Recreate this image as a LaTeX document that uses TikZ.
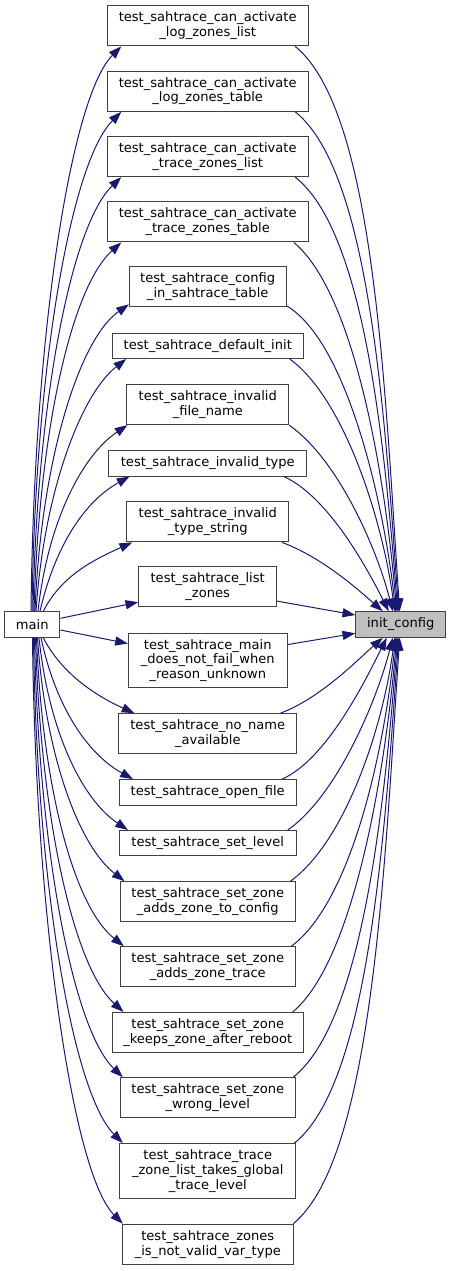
\documentclass[tikz,border=0pt]{standalone}
\usepackage{fontspec}
\setmainfont{DejaVu Sans}
\usetikzlibrary{arrows.meta,calc}
\definecolor{edgec}{HTML}{191970}
\definecolor{boxc}{HTML}{404040}
\definecolor{hl}{HTML}{BFBFBF}
\begin{document}
\begin{tikzpicture}[x=0.75pt,y=-0.75pt,
  box/.style={draw=boxc,fill=white,line width=0.75pt,inner sep=0pt,align=center,
    font=\fontsize{9.8}{11}\selectfont},
  one/.style={minimum height=19.1pt},
  two/.style={minimum height=30.2pt},
  three/.style={minimum height=41.2pt},
  edge/.style={draw=edgec,line width=0.75pt,-{Triangle[length=9.5pt,width=6.8pt]}}]
\useasboundingbox (0,0) rectangle (451,1271);
% nodes
\node[box,two,minimum width=150.5pt] (t1) at (207.7,25.8) {test\_sahtrace\_can\_activate\\\_log\_zones\_list};
\node[box,two,minimum width=150.5pt] (t2) at (207.7,91.2) {test\_sahtrace\_can\_activate\\\_log\_zones\_table};
\node[box,two,minimum width=150.5pt] (t3) at (207.7,156.5) {test\_sahtrace\_can\_activate\\\_trace\_zones\_list};
\node[box,two,minimum width=150.5pt] (t4) at (207.7,221.8) {test\_sahtrace\_can\_activate\\\_trace\_zones\_table};
\node[box,two,minimum width=117.5pt] (t5) at (207.7,286.7) {test\_sahtrace\_config\\\_in\_sahtrace\_table};
\node[box,one,minimum width=143.25pt] (t6) at (207.8,345.8) {test\_sahtrace\_default\_init};
\node[box,two,minimum width=121.3pt] (t7) at (207.8,404.5) {test\_sahtrace\_invalid\\\_file\_name};
\node[box,one,minimum width=148.3pt] (t8) at (207.8,463.3) {test\_sahtrace\_invalid\_type};
\node[box,two,minimum width=121.3pt] (t9) at (207.8,521.8) {test\_sahtrace\_invalid\\\_type\_string};
\node[box,two,minimum width=103.5pt] (lz) at (207.7,586.8) {test\_sahtrace\_list\\\_zones};
\node[box,minimum height=19.2pt,minimum width=41.5pt] (main) at (32.3,624.5) {main};
\node[box,fill=hl,minimum height=19.2pt,minimum width=67.5pt] (init) at (400.7,624.5) {init\_config};
\node[box,three,minimum width=119.25pt] (md) at (207.8,660.5) {test\_sahtrace\_main\\\_does\_not\_fail\_when\\\_reason\_unknown};
\node[box,two,minimum width=133.3pt] (b1) at (207.8,733.8) {test\_sahtrace\_no\_name\\\_available};
\node[box,one,minimum width=132.5pt] (b2) at (207.7,792.3) {test\_sahtrace\_open\_file};
\node[box,one,minimum width=132.5pt] (b3) at (207.7,843.2) {test\_sahtrace\_set\_level};
\node[box,two,minimum width=131.25pt] (b4) at (207.8,901.8) {test\_sahtrace\_set\_zone\\\_adds\_zone\_to\_config};
\node[box,two,minimum width=131.25pt] (b5) at (207.8,966.8) {test\_sahtrace\_set\_zone\\\_adds\_zone\_trace};
\node[box,two,minimum width=143.25pt] (b6) at (207.8,1032.5) {test\_sahtrace\_set\_zone\\\_keeps\_zone\_after\_reboot};
\node[box,two,minimum width=131.25pt] (b7) at (207.8,1097.8) {test\_sahtrace\_set\_zone\\\_wrong\_level};
\node[box,three,minimum width=132.2pt] (b8) at (207.8,1171) {test\_sahtrace\_trace\\\_zone\_list\_takes\_global\\\_trace\_level};
\node[box,two,minimum width=128.25pt] (b9) at (207.8,1244.3) {test\_sahtrace\_zones\\\_is\_not\_valid\_var\_type};
% main -> upper tests
\draw[edge] ($(main.north)+(-1.3,0)$) .. controls +(3,-280) and +(-50,50) .. ($(t1.south west)+(14.4,0)$);
\draw[edge] ($(main.north)+(-0.3,0)$) .. controls +(3,-245) and +(-50,50) .. ($(t2.south west)+(14.4,0)$);
\draw[edge] ($(main.north)+(0.7,0)$) .. controls +(4,-210) and +(-50,48) .. ($(t3.south west)+(14.4,0)$);
\draw[edge] ($(main.north)+(1.7,0)$) .. controls +(5,-180) and +(-50,45) .. ($(t4.south west)+(14.4,0)$);
\draw[edge] ($(main.north)+(2.7,0)$) .. controls +(6,-150) and +(-50,35) .. ($(t5.south west)+(0,-3)$);
\draw[edge] ($(main.north)+(3.7,0)$) .. controls +(8,-120) and +(-45,35) .. ($(t6.south west)+(14.4,0)$);
\draw[edge] ($(main.north)+(5.7,0)$) .. controls +(10,-90) and +(-45,30) .. ($(t7.south west)+(1,0)$);
\draw[edge] ($(main.north)+(7.7,0)$) .. controls +(15,-65) and +(-45,25) .. ($(t8.south west)+(21,0)$);
\draw[edge] ($(main.north)+(11,0)$) .. controls +(18,-35) and +(-40,18) .. ($(t9.south west)+(5.7,0)$);
% upper tests -> init
\draw[edge] ($(t1.south east)+(-13.3,0)$) .. controls +(80,65) and +(-15,-220) .. ($(init.north)+(-1,0)$);
\draw[edge] ($(t2.south east)+(-13.3,0)$) .. controls +(75,60) and +(-14,-195) .. ($(init.north)+(-2,0)$);
\draw[edge] ($(t3.south east)+(-13.3,0)$) .. controls +(70,55) and +(-13,-165) .. ($(init.north)+(-3,0)$);
\draw[edge] ($(t4.south east)+(-14.7,0)$) .. controls +(60,50) and +(-12,-140) .. ($(init.north)+(-4,0)$);
\draw[edge] ($(t5.south east)+(0,-1.5)$) .. controls +(60,35) and +(-12,-110) .. ($(init.north)+(-5,0)$);
\draw[edge] ($(t6.south east)+(-14,0)$) .. controls +(55,40) and +(-12,-90) .. ($(init.north)+(-6,0)$);
\draw[edge] ($(t7.south east)+(0,0)$) .. controls +(50,35) and +(-15,-60) .. ($(init.north)+(-8,0)$);
\draw[edge] ($(t8.south east)+(-23.4,0)$) .. controls +(45,20) and +(-20,-40) .. ($(init.north)+(-12,0)$);
\draw[edge] ($(t9.south east)+(-7,0)$) .. controls +(40,15) and +(-25,-22) .. ($(init.north)+(-18,0)$);
% straight ones
\draw[edge] ($(main.east)+(0,-6.2)$) -- ($(lz.south west)+(0,-5.3)$);
\draw[edge] ($(main.east)+(0,5.5)$) -- ($(md.north west)+(0,11)$);
\draw[edge] ($(lz.south east)+(0,-6.3)$) -- ($(init.west)+(0,-9.5)$);
\draw[edge] ($(md.north east)+(0,12)$) -- ($(init.west)+(0,8.8)$);
% main -> lower tests
\draw[edge] ($(main.south)+(11,0)$) .. controls +(18,35) and +(-40,-18) .. ($(b1.north west)+(16,0)$);
\draw[edge] ($(main.south)+(8.7,0)$) .. controls +(15,70) and +(-45,-25) .. ($(b2.north west)+(14,0)$);
\draw[edge] ($(main.south)+(6.7,0)$) .. controls +(10,95) and +(-45,-30) .. ($(b3.north west)+(9,0)$);
\draw[edge] ($(main.south)+(5.2,0)$) .. controls +(8,120) and +(-45,-35) .. ($(b4.north west)+(4.7,0)$);
\draw[edge] ($(main.south)+(4.2,0)$) .. controls +(6,150) and +(-50,-40) .. ($(b5.north west)+(4,0)$);
\draw[edge] ($(main.south)+(3.2,0)$) .. controls +(5,180) and +(-50,-45) .. ($(b6.north west)+(11.7,0)$);
\draw[edge] ($(main.south)+(2.2,0)$) .. controls +(4,210) and +(-50,-48) .. ($(b7.north west)+(3,0)$);
\draw[edge] ($(main.south)+(1.2,0)$) .. controls +(3,245) and +(-50,-50) .. ($(b8.north west)+(3.6,0)$);
\draw[edge] ($(main.south)+(0.2,0)$) .. controls +(3,280) and +(-50,-50) .. ($(b9.north west)+(1,0)$);
% lower tests -> init
\draw[edge] ($(b1.north east)+(-16.7,0)$) .. controls +(40,-15) and +(-25,22) .. ($(init.south)+(-18,0)$);
\draw[edge] ($(b2.north east)+(-14.3,0)$) .. controls +(45,-20) and +(-20,40) .. ($(init.south)+(-14,0)$);
\draw[edge] ($(b3.north east)+(-8.7,0)$) .. controls +(50,-35) and +(-15,60) .. ($(init.south)+(-8,0)$);
\draw[edge] ($(b4.north east)+(-5.3,0)$) .. controls +(55,-40) and +(-12,90) .. ($(init.south)+(-6,0)$);
\draw[edge] ($(b5.north east)+(-4.3,0)$) .. controls +(60,-45) and +(-12,115) .. ($(init.south)+(-5,0)$);
\draw[edge] ($(b6.north east)+(-11,0)$) .. controls +(60,-50) and +(-12,140) .. ($(init.south)+(-4,0)$);
\draw[edge] ($(b7.north east)+(-2.6,0)$) .. controls +(70,-55) and +(-13,165) .. ($(init.south)+(-3,0)$);
\draw[edge] ($(b8.north east)+(-2,0)$) .. controls +(75,-60) and +(-14,195) .. ($(init.south)+(-2,0)$);
\draw[edge] ($(b9.north east)+(-0.6,0)$) .. controls +(80,-65) and +(-15,225) .. ($(init.south)+(-1,0)$);
\end{tikzpicture}
\end{document}
